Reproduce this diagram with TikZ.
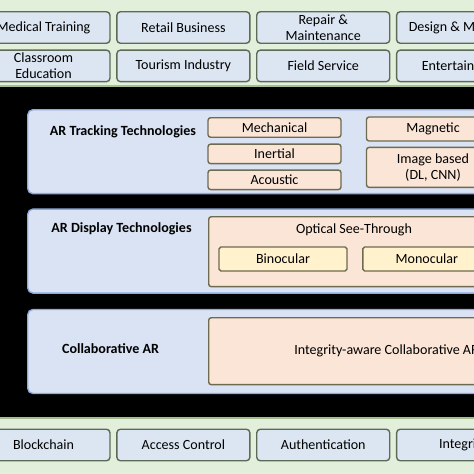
\documentclass[tikz,border=0pt]{standalone}
\usepackage{fontspec}
\setmainfont{Carlito}
\usepackage{xcolor}
\usetikzlibrary{positioning}
\definecolor{bandgreen}{HTML}{E2EFDA}
\definecolor{bandedge}{HTML}{A3BF8E}
\definecolor{appblue}{HTML}{DCE6F2}
\definecolor{appedge}{HTML}{5C6B55}
\definecolor{layerblue}{HTML}{DAE3F3}
\definecolor{layeredge}{HTML}{8EA9DB}
\definecolor{techpeach}{HTML}{FBE5D6}
\definecolor{techedge}{HTML}{6E6B50}
\definecolor{optyellow}{HTML}{FFF2CC}

\begin{document}
\begin{tikzpicture}[
  x=0.02cm, y=-0.02cm, font=\fontsize{8}{9.2}\selectfont,
  appbox/.style={draw=appedge, fill=appblue, rounded corners=2pt, line width=.8pt,
    minimum width=2.66cm, minimum height=.63cm, align=center, inner sep=1pt},
  layer/.style={draw=layeredge, fill=layerblue, rounded corners=3pt, line width=.8pt,
    minimum width=11cm, minimum height=1.68cm, anchor=north west, inner sep=0pt},
  tech/.style={draw=techedge, fill=techpeach, rounded corners=1.5pt, line width=.8pt,
    minimum width=2.66cm, align=center, inner sep=1pt},
  optic/.style={draw=techedge, fill=optyellow, rounded corners=1pt, line width=.8pt,
    minimum width=2.56cm, minimum height=.48cm, inner sep=1pt},
  lbl/.style={font=\fontsize{8}{9.2}\selectfont\bfseries}
]
\useasboundingbox (0,0) rectangle (474,474);
\clip (0,0) rectangle (474,474);
% background bands
\fill[black] (-30,80) rectangle (530,425);
\draw[bandedge, fill=bandgreen, line width=.8pt] (-30,-20) rectangle (530,86);
\draw[bandedge, fill=bandgreen, line width=.8pt] (-30,418) rectangle (530,520);
% application areas
\node[appbox] (med) at (43.5,27.5) {Medical Training};
\node[appbox, right=1.1mm of med] (retail) {Retail Business};
\node[appbox, right=1.1mm of retail] (repair) {Repair \&\\Maintenance};
\node[appbox, right=1.1mm of repair] (design) {Design \& Modeling};
\node[appbox, below=1.1mm of med] (class) {Classroom\\Education};
\node[appbox, right=1.1mm of class] (tour) {Tourism Industry};
\node[appbox, right=1.1mm of tour] (field) {Field Service};
\node[appbox, right=1.1mm of field] (enter) {Entertainment};
% AR layers
\node[layer] (track) at (27,109) {};
\node[layer, below=2.8mm of track] (disp) {};
\node[layer, below=3mm of disp] (collab) {};
\node[lbl] (tracklbl) at (123,132) {AR Tracking Technologies};
\node[lbl] (displbl) at (121.5,229) {AR Display Technologies};
\node[lbl] (collablbl) at (110.5,349) {Collaborative AR};
% tracking
\node[tech, minimum height=.39cm] (mech) at (274.5,127.5) {Mechanical};
\node[tech, minimum height=.39cm, below=1.1mm of mech] (inert) {Inertial};
\node[tech, minimum height=.39cm, below=1mm of inert] (acou) {Acoustic};
\node[tech, minimum height=.48cm] (magn) at (433,129) {Magnetic};
\node[tech, minimum height=.8cm, below=1mm of magn] (image) {Image based\\(DL, CNN)};
% display
\node[tech, anchor=north west, minimum width=5.84cm, minimum height=1.4cm] (ost) at (208,216) {};
\node (ostlbl) at (354,230) {Optical See-Through};
\node[optic] (bino) at (283,259) {Binocular};
\node[optic, right=2.9mm of bino] (mono) {Monocular};
% collaborative
\node[tech, anchor=north west, minimum width=6.6cm, minimum height=1.34cm] (iaca) at (208,317) {};
\node[anchor=west, inner sep=0pt] (iacalbl) at (294,351) {Integrity-aware Collaborative AR};
% security
\node[appbox] (chain) at (43.5,445) {Blockchain};
\node[appbox, right=1.1mm of chain] (access) {Access Control};
\node[appbox, right=1.1mm of access] (auth) {Authentication};
\node[appbox, right=1.1mm of auth] (integ) {Integrity};
\end{tikzpicture}
\end{document}
